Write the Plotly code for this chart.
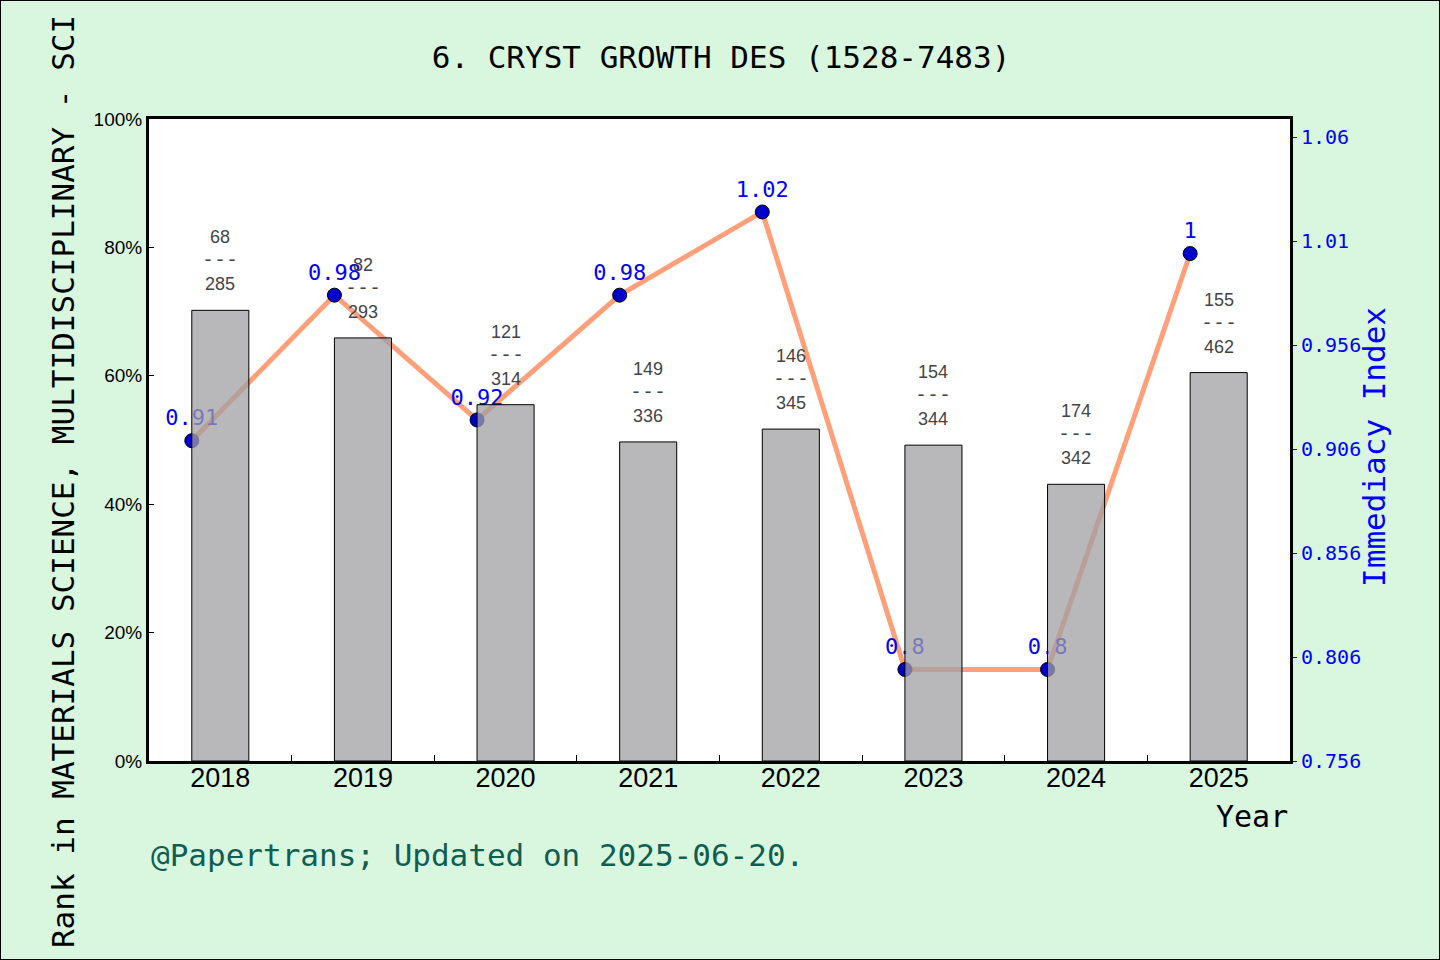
import plotly.graph_objects as go

years = ["2018", "2019", "2020", "2021", "2022", "2023", "2024", "2025"]
rank_share = [0.702, 0.659, 0.555, 0.497, 0.517, 0.492, 0.431, 0.605]
ranks = [68, 82, 121, 149, 146, 154, 174, 155]
totals = [285, 293, 314, 336, 345, 344, 342, 462]
immediacy = [0.91, 0.98, 0.92, 0.98, 1.02, 0.80, 0.80, 1.00]

right_tickvals = [0.756, 0.806, 0.856, 0.906, 0.956, 1.006, 1.056]
right_ticktext = ["0.756", "0.806", "0.856", "0.906", "0.956", "1.01", "1.06"]
left_tickvals = [0, 0.2, 0.4, 0.6, 0.8, 1.0]

MONO = "DejaVu Sans Mono"
SANS = "Liberation Sans, Arial, sans-serif"

xpos = list(range(len(years)))
line_x = [i - 0.2 for i in xpos]

fig = go.Figure()

# Immediacy line (drawn first, beneath bars)
fig.add_trace(go.Scatter(
    x=line_x, y=immediacy, xaxis="x", yaxis="y",
    mode="lines+markers+text",
    line=dict(color="#ffa07a", width=5),
    marker=dict(color="#0000cd", size=14, line=dict(color="black", width=1)),
    text=[f"{v:g}" for v in immediacy],
    textposition="top center",
    textfont=dict(family=MONO, size=22, color="#0000ff"),
    showlegend=False, cliponaxis=False,
))

# Rank bars on overlay axis (drawn on top)
fig.add_trace(go.Bar(
    x=xpos, y=rank_share, xaxis="x", yaxis="y2",
    width=0.4,
    marker=dict(color="rgba(160,160,163,0.75)", line=dict(color="black", width=1)),
    showlegend=False,
))

annotations = []
for i, (v, r, t) in enumerate(zip(rank_share, ranks, totals)):
    annotations.append(dict(
        x=i, y=v, xref="x", yref="y2", yanchor="bottom", yshift=14,
        text=f"{r}<br><span style='font-family:DejaVu Sans Mono;font-size:20px'>---</span><br>{t}",
        showarrow=False,
        font=dict(family=SANS, size=18, color="#444444"),
    ))

annotations += [
    dict(text="Rank in MATERIALS SCIENCE, MULTIDISCIPLINARY - SCI", textangle=-90,
         xref="paper", yref="paper", x=-0.0754, y=0.436, xanchor="center", yanchor="middle",
         showarrow=False, font=dict(family=MONO, size=31, color="black")),
    dict(text="Immediacy Index", textangle=-90,
         xref="paper", yref="paper", x=1.0735, y=0.489, xanchor="center", yanchor="middle",
         showarrow=False, font=dict(family=MONO, size=31, color="#0000ff")),
    dict(text="Year", xref="paper", yref="paper", x=1.0, y=-0.0872,
         xanchor="right", yanchor="middle", showarrow=False,
         font=dict(family=MONO, size=30, color="black")),
    dict(text="@Papertrans; Updated on 2025-06-20.", xref="paper", yref="paper",
         x=0.0, y=-0.1464, xanchor="left", yanchor="middle", showarrow=False,
         font=dict(family=MONO, size=31, color="#0f5e52")),
]

fig.update_layout(
    width=1440, height=960,
    margin=dict(l=149, r=150, t=119, b=199),
    paper_bgcolor="#d9f7df", plot_bgcolor="white",
    title=dict(text="6. CRYST GROWTH DES (1528-7483)", x=0.5007, y=1 - 57 / 960,
               xanchor="center", yanchor="middle",
               font=dict(family=MONO, size=31, color="black")),
    xaxis=dict(range=[-0.5, 7.5], tickmode="array", tickvals=xpos, ticktext=years,
               ticks="", showgrid=False, zeroline=False, ticklabelstandoff=-9,
               showline=True, linecolor="black", linewidth=3, mirror=True,
               tickfont=dict(family=SANS, size=27, color="black"),
               minor=dict(tickmode="array", tickvals=[i + 0.5 for i in xpos[:-1]],
                          ticks="inside", ticklen=6, tickcolor="black", tickwidth=1,
                          showgrid=False)),
    yaxis=dict(range=[0.756, 1.0647], side="right", tickmode="array",
               tickvals=right_tickvals, ticktext=right_ticktext,
               ticks="outside", ticklen=4, tickcolor="#0000ff", showgrid=False,
               zeroline=False, showline=True, linecolor="black", linewidth=3,
               tickfont=dict(family=MONO, size=20, color="#0000ff")),
    yaxis2=dict(range=[0, 1.0], overlaying="y", side="left", tickmode="array",
                tickvals=left_tickvals, tickformat=".0%",
                ticks="inside", ticklen=5, tickcolor="black", showgrid=False,
                zeroline=False, showline=True, linecolor="black", linewidth=3,
                tickfont=dict(family=SANS, size=19, color="black")),
    bargap=0.6,
    annotations=annotations,
    shapes=[dict(type="rect", xref="paper", yref="paper",
                 x0=-149 / 1141, x1=1291 / 1141, y0=(761 - 960) / 642, y1=761 / 642,
                 line=dict(color="black", width=2), fillcolor="rgba(0,0,0,0)", layer="above")],
)

fig.write_html("out.html")
